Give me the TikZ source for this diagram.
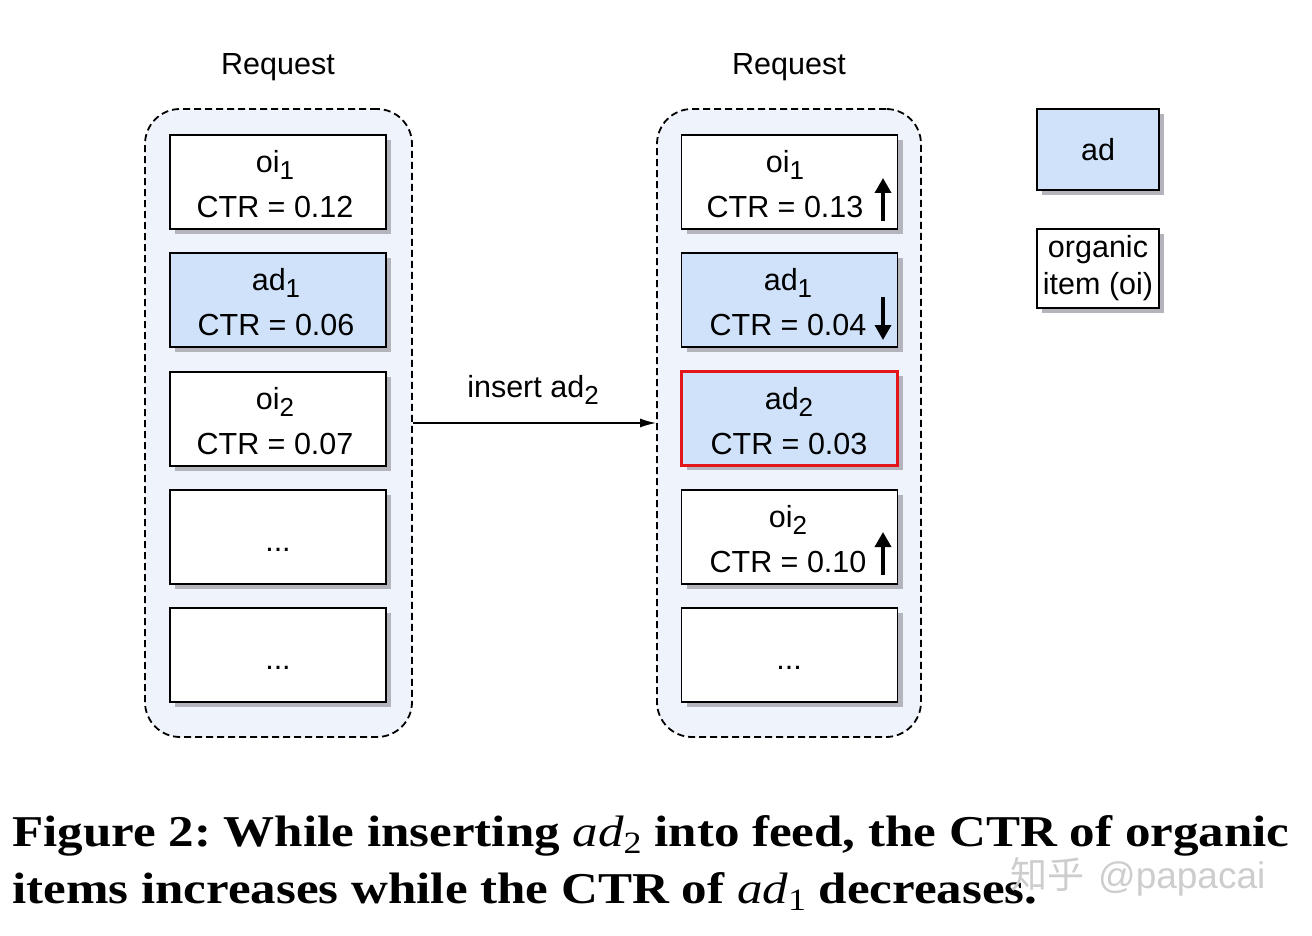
\documentclass[tikz,border=0pt]{standalone}
\usepackage{fontspec}
\setmainfont{Liberation Serif}
\setsansfont{Liberation Sans}
\newfontfamily\cjk{Noto Sans CJK SC}
\newfontfamily\capfont[FakeStretch=1.16]{Liberation Serif}
\usetikzlibrary{shadows,arrows.meta}
\definecolor{adblue}{HTML}{CFE2FA}
\definecolor{panel}{HTML}{EEF3FC}
\definecolor{shade}{HTML}{B4B4BC}
\definecolor{redb}{HTML}{E3151A}
\definecolor{wmark}{HTML}{CDCDCD}
\newcommand{\sbs}[1]{\raisebox{-7pt}{\fontsize{26}{26}\selectfont #1}}
\newcommand{\csub}[2]{{\mdseries\itshape #1}{\mdseries\raisebox{-7pt}{\fontsize{31}{31}\selectfont #2}}}
\frenchspacing
\begin{document}
\begin{tikzpicture}[x=1pt,y=-1pt,
  font=\sffamily\fontsize{30.5}{45}\selectfont,
  panelbox/.style={draw, dash pattern=on 7pt off 4pt, line width=1.8pt, rounded corners=35pt, fill=panel, minimum height=628pt, inner sep=0pt},
  item/.style={draw, line width=1.8pt, fill=white, minimum width=216pt, minimum height=94pt, inner sep=0pt,
    drop shadow={shadow xshift=5pt, shadow yshift=-5pt, fill=shade, opacity=1}},
  aditem/.style={item, fill=adblue},
  txt/.style={align=center, inner sep=0pt},
  dots/.style={inner sep=0pt, anchor=base},
  chg/.style={line width=3.5pt, -{Triangle[width=16pt,length=15pt]}},
  link/.style={line width=1.5pt, -{Latex[length=16pt,width=9pt]}},
  lbl/.style={inner sep=0pt, anchor=base},
  captext/.style={inner sep=0pt, anchor=base west, font=\capfont\bfseries\fontsize{44}{44}\selectfont}
]
\useasboundingbox (0,0) rectangle (1312,936);

% panels
\node[panelbox, minimum width=267pt] (lp) at (278.5,423) {};
\node[panelbox, minimum width=264pt] (rp) at (789,423) {};
\node[lbl] (lreq) at (278,75) {Request};
\node[lbl] (rreq) at (789,75) {Request};

% left column
\node[item]   (l1) at (278,182) {};
\node[aditem] (l2) at (278,300) {};
\node[item]   (l3) at (278,419) {};
\node[item]   (l4) at (278,537) {};
\node[item]   (l5) at (278,655) {};
\node[txt] (l1t) at (275,184) {oi\sbs{1}\\CTR = 0.12};
\node[txt] (l2t) at (276,302) {ad\sbs{1}\\CTR = 0.06};
\node[txt] (l3t) at (275,421) {oi\sbs{2}\\CTR = 0.07};
\node[dots] (l4t) at (278,551) {...};
\node[dots] (l5t) at (278,669) {...};

% right column
\node[item]   (r1) at (789.5,182) {};
\node[aditem] (r2) at (789.5,300) {};
\node[aditem, draw=redb, line width=3pt] (r3) at (789.5,418) {};
\node[item]   (r4) at (789.5,537) {};
\node[item]   (r5) at (789.5,655) {};
\node[txt] (r1t) at (785,184) {oi\sbs{1}\\CTR = 0.13};
\node[txt] (r2t) at (788,302) {ad\sbs{1}\\CTR = 0.04};
\node[txt] (r3t) at (789,421) {ad\sbs{2}\\CTR = 0.03};
\node[txt] (r4t) at (788,539) {oi\sbs{2}\\CTR = 0.10};
\node[dots] (r5t) at (789,669) {...};

% change arrows
\coordinate (u1a) at (883,221); \coordinate (u1b) at (883,178);
\coordinate (d2a) at (883,297); \coordinate (d2b) at (883,340);
\coordinate (u4a) at (883,575); \coordinate (u4b) at (883,532);
\draw[chg] (u1a) -- (u1b);
\draw[chg] (d2a) -- (d2b);
\draw[chg] (u4a) -- (u4b);

% insert arrow
\draw[link] (lp.east) -- (rp.west);
\node[lbl] (ins) at (533,397) {insert ad\sbs{2}};

% legend
\node[aditem, minimum width=122pt, minimum height=81pt] (lgad) at (1098,149.5) {};
\node[txt] at (lgad) {ad};
\node[item, minimum width=122pt, minimum height=79pt] (lgoi) at (1098,268.5) {};
\node[txt, font=\sffamily\fontsize{30.5}{37}\selectfont] (lgoit) at (1098,268) {organic\\item (oi)};

% caption
\node[captext] (cap1) at (12,846) {Figure 2: While inserting \csub{ad}{2} into feed, the CTR of organic};
\node[captext] (cap2) at (12,903) {items increases while the CTR of \csub{ad}{1} decreases.};

% watermark
\node[inner sep=0pt, anchor=base west, text=wmark, font=\fontsize{37}{37}\selectfont] (wm) at (1010,888) {{\cjk 知乎}\hspace{14pt}{\sffamily @papacai}};
\end{tikzpicture}
\end{document}
